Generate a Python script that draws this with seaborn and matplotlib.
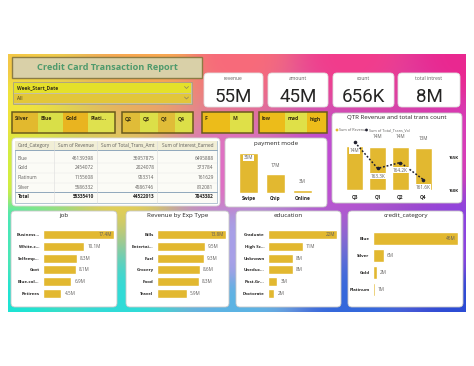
#!/usr/bin/env python
"""Credit card transaction report dashboard (seaborn rebuild)"""
import matplotlib
matplotlib.use('Agg')
import matplotlib.pyplot as plt
import matplotlib.colors as mcolors
from matplotlib.patches import FancyBboxPatch, Rectangle, Circle
import numpy as np
import pandas as pd
import seaborn as sns

sns.set_theme(style='white')
plt.rcParams['font.family'] = ['Open Sans', 'DejaVu Sans']

W, H = 474, 366
GOLD = '#E2B830'
TXT = '#252423'
GREY = '#605E5C'

# ---- data ----
kpi_labels = ['revenue', 'amount', 'count', 'total intrest']
kpi_values = ['55M', '45M', '656K', '8M']

table_cols = ['Card_Category', 'Sum of Revenue', 'Sum of Total_Trans_Amt', 'Sum of Interest_Earned']
card_cats = ['Blue', 'Gold', 'Platinum', 'Silver']
card_revenue = [46139398, 2454072, 1155608, 5586332]
card_trans_amt = [36957875, 2024078, 953314, 4586746]
card_interest = [6495888, 373784, 161629, 812081]

pay_modes = ['Swipe', 'Chip', 'Online']
pay_revenue = [35, 17, 3]

quarters = ['Q3', 'Q1', 'Q2', 'Q4']
qtr_revenue = [14.2, 13.9, 13.9, 13.3]
qtr_revenue_lbl = ['14M', '14M', '14M', '13M']
qtr_trans_vol = [167.3, 163.3, 164.2, 161.6]

job_names = ['Business...', 'White-c...', 'Selfemp...', 'Govt', 'Blue-col...', 'Retirees']
job_revenue = [17.4, 10.1, 8.3, 8.1, 6.9, 4.5]
exp_names = ['Bills', 'Entertai...', 'Fuel', 'Grocery', 'Food', 'Travel']
exp_revenue = [13.8, 9.5, 9.3, 8.6, 8.3, 5.9]
edu_names = ['Graduate', 'High Sc...', 'Unknown', 'Uneduc...', 'Post-Gr...', 'Doctorate']
edu_revenue = [22, 11, 8, 8, 3, 2]
credit_names = ['Blue', 'Silver', 'Gold', 'Platinum']
credit_revenue = [46, 6, 2, 1]

slicer_groups = [['Silver', 'Blue', 'Gold', 'Plati...'], ['Q2', 'Q3', 'Q1', 'Q4'],
                 ['F', 'M'], ['low', 'med', 'high']]

# ---- figure + pixel background axes ----
fig = plt.figure(figsize=(W / 100, H / 100), dpi=100)
fig.patch.set_facecolor('white')
bg = fig.add_axes([0, 0, 1, 1])
bg.set_xlim(0, W)
bg.set_ylim(H, 0)
bg.axis('off')

# gradient backdrop (inverse distance blend of a few colour anchors)
grad_pts = [(0.0, 0.0, '#f4c848'), (0.3, 0.0, '#f8a850'), (0.5, 0.0, '#f86a7a'),
            (0.75, 0.0, '#f23c8c'), (1.0, 0.0, '#ea2890'), (1.0, 0.35, '#d83cb8'),
            (1.0, 0.7, '#8c44e0'), (1.0, 1.0, '#2c4cd4'), (0.75, 1.0, '#3468dc'),
            (0.5, 1.0, '#5cb4e4'), (0.25, 1.0, '#30dcd8'), (0.0, 1.0, '#1ee4d4'),
            (0.0, 0.7, '#48e8b8'), (0.0, 0.45, '#d4ee40'), (0.0, 0.2, '#f0e43c'),
            (0.48, 0.45, '#e070c4'), (0.72, 0.42, '#c04cd4'), (0.25, 0.5, '#e8d050'),
            (0.5, 0.75, '#a8a0e8')]
gh, gw = 258, 458
vv, uu = np.mgrid[0:1:gh * 1j, 0:1:gw * 1j]
num = np.zeros((gh, gw, 3))
den = np.zeros((gh, gw))
for pu, pv, c in grad_pts:
    wgt = 1.0 / (((uu - pu) ** 2 + ((vv - pv) * 0.56) ** 2 + 1e-4) ** 1.5)
    num += wgt[..., None] * np.array(mcolors.to_rgb(c))
    den += wgt
bg.imshow(num / den[..., None], extent=(8, 466, 312, 54), aspect='auto', zorder=0)
bg.set_xlim(0, W)
bg.set_ylim(H, 0)


def card(x0, y0, x1, y1, fc='white', ec='#c8c8c8', lw=0.6, r=4, z=2):
    bg.add_patch(FancyBboxPatch((x0, y0), x1 - x0, y1 - y0,
                                boxstyle=f'round,pad=0,rounding_size={r}',
                                fc=fc, ec=ec, lw=lw, zorder=z))


def px_axes(x0, y0, x1, y1):
    ax = fig.add_axes([x0 / W, 1 - y1 / H, (x1 - x0) / W, (y1 - y0) / H])
    ax.set_facecolor('none')
    for s in ax.spines.values():
        s.set_visible(False)
    return ax


# ---- title ----
bg.add_patch(Rectangle((12, 57), 190, 21, fc='#d9d0a8', ec='#8c7c44', lw=1.0, zorder=2))
bg.text(107, 67.5, 'Credit Card Transaction Report', ha='center', va='center',
        fontsize=6.6, fontweight='bold', color='#4f9a6c', zorder=3)

# ---- date slicer ----
bg.add_patch(Rectangle((13, 82), 179, 22, fc='#c8c0a0', ec='#a09a80', lw=0.5, zorder=2))
bg.add_patch(Rectangle((14, 83), 177, 9.5, fc='#e4e02a', ec='none', zorder=3))
bg.add_patch(Rectangle((14, 93.5), 177, 9.5, fc='#e2c63a', ec='none', zorder=3))
bg.text(17, 87.8, 'Week_Start_Date', fontsize=3.5, fontweight='bold', color='#3a3418',
        va='center', zorder=4)
bg.text(17, 98.3, 'All', fontsize=3.5, color='#3a3418', va='center', zorder=4)
for yc in [87.5, 98]:
    bg.plot([184.5, 186.5, 188.5], [yc - 1, yc + 1, yc - 1], color='#8a8060', lw=0.5, zorder=4)

# ---- button slicers ----
seg_edges = [[12, 38, 63, 88, 115], [122, 140, 158, 175, 193], [202, 230, 253], [259, 285, 307, 327]]
seg_fills = [['#e2b92e', '#d9df48', '#e9b420', '#dfe14e'],
             ['#e0bc38', '#dcdf48', '#e0bc38', '#dcdf48'],
             ['#ecbc1a', '#dfe048'], ['#ecbc1a', '#dfe048', '#ecbc1a']]
for names, edges, fills in zip(slicer_groups, seg_edges, seg_fills):
    for i, nm in enumerate(names):
        bg.add_patch(Rectangle((edges[i], 112), edges[i + 1] - edges[i], 21,
                               fc=fills[i], ec='none', zorder=2))
        bg.text(edges[i] + 3, 119, nm, fontsize=3.7, fontweight='bold', color='#3a3010',
                va='center', zorder=3)
    bg.add_patch(Rectangle((edges[0], 112), edges[-1] - edges[0], 21, fc='none',
                           ec='#6a5a1c', lw=1.1, zorder=3))

# ---- KPI cards ----
kpi_x = [(204, 263), (268, 328), (333, 394), (398, 460)]
for (x0, x1), lab, val in zip(kpi_x, kpi_labels, kpi_values):
    card(x0, 73, x1, 107, ec='#e0e0e0')
    bg.text((x0 + x1) / 2, 79, lab, ha='center', va='center', fontsize=3.6, color=GREY, zorder=3)
    bg.text((x0 + x1) / 2, 97, val, ha='center', va='center', fontsize=13.5, color=TXT,
            family=['Roboto', 'DejaVu Sans'], zorder=3)

# ---- table ----
card(12, 138, 220, 206, ec='#d8d8d8')
bg.add_patch(Rectangle((15, 140.5), 202, 62, fc='#fbfbf6', ec='#a8bccc', lw=0.6, zorder=3))
bg.add_patch(Rectangle((15, 140.5), 202, 9.5, fc='#f1eed6', ec='none', zorder=3))
bg.plot([15, 217], [150, 150], color='#90a8bc', lw=0.7, zorder=4)
bg.plot([15, 217], [192.3, 192.3], color='#90a8bc', lw=0.7, zorder=4)
for xv in [54, 97, 157]:
    bg.plot([xv, xv], [140.5, 202.5], color='#dcdcdc', lw=0.4, zorder=4)
row_y = [158.3, 167.7, 177.7, 187.2]
for yv in [163, 172.7, 182.5]:
    bg.plot([15, 217], [yv, yv], color='#e6e6e6', lw=0.3, zorder=4)
col_right = [94, 154.5, 213.5]
bg.text(18, 145.3, table_cols[0], fontsize=3.4, color=GREY, va='center', zorder=5)
for xr, lab in zip(col_right, table_cols[1:]):
    bg.text(xr, 145.3, lab, fontsize=3.4, color=GREY, va='center', ha='right', zorder=5)
for yv, cat, r, a, it in zip(row_y, card_cats, card_revenue, card_trans_amt, card_interest):
    bg.text(18, yv, cat, fontsize=3.4, color=GREY, va='center', zorder=5)
    for xr, v in zip(col_right, [r, a, it]):
        bg.text(xr, yv, f'{v}', fontsize=3.4, color=GREY, va='center', ha='right', zorder=5)
bg.text(18, 197, 'Total', fontsize=3.4, color=TXT, va='center', fontweight='bold', zorder=5)
for xr, vals in zip(col_right, [card_revenue, card_trans_amt, card_interest]):
    bg.text(xr, 197, f'{sum(vals)}', fontsize=3.4, color=TXT, va='center', ha='right',
            fontweight='bold', zorder=5)

# ---- payment mode ----
card(225, 138, 327, 207)
bg.text(276, 144, 'payment mode', ha='center', va='center', fontsize=4.5, color=TXT, zorder=3)
ax_p = px_axes(235, 150, 316, 193)
sns.barplot(x=pay_modes, y=pay_revenue, color=GOLD, saturation=1, width=0.74, ax=ax_p)
ax_p.set_ylim(0, 37.6)
ax_p.set_yticks([])
ax_p.set_xlabel('')
ax_p.set_ylabel('')
ax_p.tick_params(axis='x', length=0, pad=2.5, labelsize=3.4)
for lbl in ax_p.get_xticklabels():
    lbl.set_fontweight('bold')
    lbl.set_color(TXT)
top_p = max(pay_revenue)
for i, v in enumerate(pay_revenue):
    if v == top_p:
        ax_p.annotate(f'{v}M', (i, v), xytext=(0, -3.5), textcoords='offset points',
                      ha='center', va='center', fontsize=3.3, color=GREY,
                      bbox=dict(fc='white', ec='none', pad=0.6))
    else:
        ax_p.annotate(f'{v}M', (i, v), xytext=(0, 6), textcoords='offset points',
                      ha='center', va='center', fontsize=3.3, color=GREY)

# ---- QTR revenue + trans count ----
card(332, 113, 462, 203)
bg.text(397, 118, 'QTR Revenue and total trans count', ha='center', va='center',
        fontsize=4.4, color=TXT, zorder=3)
bg.add_patch(Circle((337, 130), 1.4, fc=GOLD, ec='none', zorder=3))
bg.text(339.5, 130, 'Sum of Revenue', fontsize=2.7, color=GREY, va='center', zorder=3)
bg.add_patch(Circle((366.5, 130), 1.4, fc='#1f1f2e', ec='none', zorder=3))
bg.text(369, 130, 'Sum of Total_Trans_Vol', fontsize=2.7, color=GREY, va='center', zorder=3)

ax_q = px_axes(342, 135, 436, 190)
sns.barplot(x=quarters, y=qtr_revenue, color=GOLD, saturation=1, width=0.75, ax=ax_q)
ax_q.set_ylim(0, 17.6)
ax_q.set_yticks([])
ax_q.set_xlabel('')
ax_q.set_ylabel('')
ax_q.tick_params(axis='x', length=0, pad=3, labelsize=3.4)
for lbl in ax_q.get_xticklabels():
    lbl.set_fontweight('bold')
    lbl.set_color(TXT)
for i, (v, t) in enumerate(zip(qtr_revenue, qtr_revenue_lbl)):
    if i == 0:
        ax_q.annotate(t, (i, v), xytext=(0, -3.5), textcoords='offset points', ha='center',
                      va='center', fontsize=3.3, color=GREY,
                      bbox=dict(fc='white', ec='none', pad=0.6))
    else:
        ax_q.annotate(t, (i, v), xytext=(0, 7), textcoords='offset points', ha='center',
                      va='center', fontsize=3.3, color=GREY)

ax_q2 = ax_q.twinx()
ax_q2.set_facecolor('none')
for s in ax_q2.spines.values():
    s.set_visible(False)
sns.lineplot(x=np.arange(len(quarters)), y=qtr_trans_vol, ax=ax_q2, color='#1f1f2e',
             linestyle=(0, (1.2, 1.2)), linewidth=1.1, marker='o', markersize=2.6,
             markeredgewidth=0)
ax_q2.set_ylim(160, 168.4)
ax_q2.set_yticks([160, 165])
ax_q2.set_yticklabels(['160K', '165K'])
ax_q2.tick_params(axis='y', length=0, pad=9, labelsize=3.1, colors=TXT)
for lbl in ax_q2.get_yticklabels():
    lbl.set_fontweight('bold')
for i, v in enumerate(qtr_trans_vol):
    if i == 0:
        continue
    ax_q2.annotate(f'{v:.1f}K', (i, v), xytext=(0, -5.5), textcoords='offset points',
                   ha='center', va='center', fontsize=3.3, color=GREY,
                   bbox=dict(fc='white', ec='none', pad=0.6))


# ---- bottom horizontal bar cards ----
def hbar_card(box, title, names, vals, ax_box, wbar=0.75):
    card(*box)
    bg.text((box[0] + box[2]) / 2, 215.5, title, ha='center', va='center',
            fontsize=4.5, color=TXT, zorder=3)
    ax = px_axes(*ax_box)
    df = pd.DataFrame({'name': names, 'val': vals})
    sns.barplot(data=df, x='val', y='name', color=GOLD, saturation=1, width=wbar,
                orient='h', ax=ax)
    ax.set_xlim(0, max(vals))
    ax.set_xticks([])
    ax.set_xlabel('')
    ax.set_ylabel('')
    ax.tick_params(axis='y', length=0, pad=2.5, labelsize=3.2)
    for lbl in ax.get_yticklabels():
        lbl.set_fontweight('bold')
        lbl.set_color(TXT)
    top = max(vals)
    for i, v in enumerate(vals):
        if v == top:
            ax.annotate(f'{v:g}M', (v, i), xytext=(-1.5, 0), textcoords='offset points',
                        ha='right', va='center', fontsize=3.3, color=GREY)
        else:
            ax.annotate(f'{v:g}M', (v, i), xytext=(2.2, 0), textcoords='offset points',
                        ha='left', va='center', fontsize=3.3, color=GREY)
    return ax


hbar_card((11, 211, 117, 307), 'job', job_names, job_revenue, (43, 228.5, 114, 299.5))
hbar_card((126, 211, 229, 307), 'Revenue by Exp Type', exp_names, exp_revenue,
          (157, 228.5, 226, 299.5))
hbar_card((236, 211, 341, 307), 'education', edu_names, edu_revenue, (268, 228.5, 337, 299.5))
hbar_card((348, 211, 463, 307), 'credit_category', credit_names, credit_revenue,
          (373, 229.8, 458, 297.7), wbar=0.78)

fig.savefig('out.png', dpi=100)
plt.close()
